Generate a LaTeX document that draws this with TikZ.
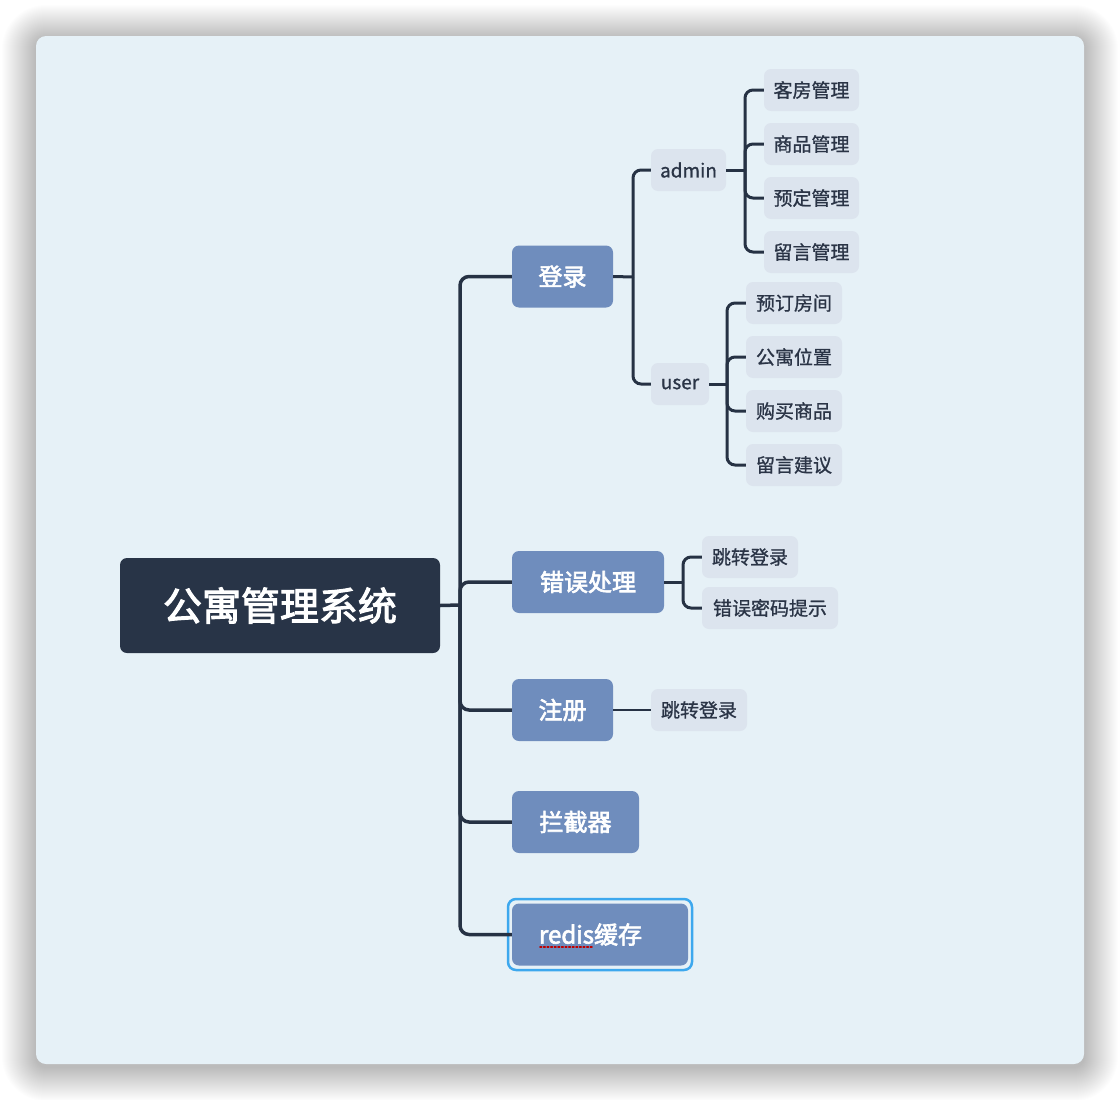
\documentclass[tikz,border=0pt]{standalone}
\usepackage{fontspec}
\newfontfamily\cjk{Noto Sans CJK SC}[FakeBold=1]
\newfontfamily\cjkm{Noto Sans CJK SC}[FakeBold=2.6]
\definecolor{panelc}{HTML}{E6F1F7}
\definecolor{rootc}{HTML}{283447}
\definecolor{lonec}{HTML}{6F8DBD}
\definecolor{leafc}{HTML}{DCE4EE}
\definecolor{linec}{HTML}{263244}
\definecolor{txtc}{HTML}{2A3446}
\definecolor{selc}{HTML}{3DA8EE}
\tikzset{
  rootbox/.style={fill=rootc, rounded corners=7pt, text=white, inner sep=0pt,
    font=\cjkm\fontsize{39}{41}\selectfont, minimum width=320pt, minimum height=95pt},
  lonebox/.style={fill=lonec, rounded corners=7pt, text=white, inner sep=0pt,
    font=\cjkm\fontsize{24}{26}\selectfont, minimum height=62pt},
  leafbox/.style={fill=leafc, rounded corners=7pt, text=txtc, inner sep=0pt,
    font=\cjk\fontsize{19}{21}\selectfont, minimum height=42pt},
  trunk/.style={draw=linec, line width=3.5pt, rounded corners=9pt},
  branch/.style={draw=linec, line width=3pt, rounded corners=8pt},
}
\begin{document}
\begin{tikzpicture}[x=1pt,y=-1pt]
\useasboundingbox (0,0) rectangle (1120,1100);
\fill[white] (0,0) rectangle (1120,1100);
% soft shadow
\foreach \i in {1,...,34} {
  \fill[black, opacity=0.008, rounded corners={10pt+\i pt}]
    (36-\i,39-\i) rectangle (1084+\i,1067+\i);
}
% panel
\fill[panelc, rounded corners=10pt] (36,36) rectangle (1084,1064);

% nodes
\node[rootbox] (root) at (280,605.5) {公寓管理系统};
\node[lonebox, minimum width=101pt] (n1) at (562.5,276.5) {登录};
\node[lonebox, minimum width=152pt] (n2) at (588,582) {错误处理};
\node[lonebox, minimum width=101pt] (n3) at (562.5,710) {注册};
\node[lonebox, minimum width=127pt] (n4) at (575.5,822) {拦截器};
\node[lonebox, minimum width=176pt, text width=122pt, align=left, inner xsep=27pt] (n5) at (600,934.5) {redis缓存};

\node[leafbox, minimum width=75pt] (a) at (688.5,170) {admin};
\node[leafbox, minimum width=58pt] (u) at (680,384) {user};
\node[leafbox, minimum width=95pt] (a1) at (811.5,90) {客房管理};
\node[leafbox, minimum width=95pt] (a2) at (811.5,144) {商品管理};
\node[leafbox, minimum width=95pt] (a3) at (811.5,198) {预定管理};
\node[leafbox, minimum width=95pt] (a4) at (811.5,252) {留言管理};
\node[leafbox, minimum width=96pt] (u1) at (794,303) {预订房间};
\node[leafbox, minimum width=96pt] (u2) at (794,357) {公寓位置};
\node[leafbox, minimum width=96pt] (u3) at (794,411) {购买商品};
\node[leafbox, minimum width=96pt] (u4) at (794,465) {留言建议};
\node[leafbox, minimum width=96pt] (e1) at (750,557) {跳转登录};
\node[leafbox, minimum width=136pt] (e2) at (770,608) {错误密码提示};
\node[leafbox, minimum width=96pt] (r1) at (699,710) {跳转登录};

% selection outline and spell-check mark
\draw[selc, line width=2.5pt, rounded corners=8pt] (508,899) rectangle (692,970);
\draw[red!75!black, line width=1.6pt, dotted, line cap=round] (540,947) -- (593,947);

% junctions
\coordinate (j0) at (460,605);
\coordinate (j1) at (633,277);
\coordinate (ja) at (745,170);
\coordinate (ju) at (727,384);
\coordinate (je) at (683,582);

% connectors
\draw[trunk] (root.east) -- (j0);
\foreach \c in {n1,n2,n3,n4,n5} \draw[trunk] (j0) |- (\c.west);
\draw[branch] (n1.east) -- (j1);
\foreach \c in {a,u} \draw[branch] (j1) |- (\c.west);
\draw[branch] (a.east) -- (ja);
\foreach \c in {a1,a2,a3,a4} \draw[branch] (ja) |- (\c.west);
\draw[branch] (u.east) -- (ju);
\foreach \c in {u1,u2,u3,u4} \draw[branch] (ju) |- (\c.west);
\draw[branch] (n2.east) -- (je);
\foreach \c in {e1,e2} \draw[branch] (je) |- (\c.west);
\draw[draw=linec, line width=2pt] (n3.east) -- (r1.west);
\end{tikzpicture}
\end{document}
